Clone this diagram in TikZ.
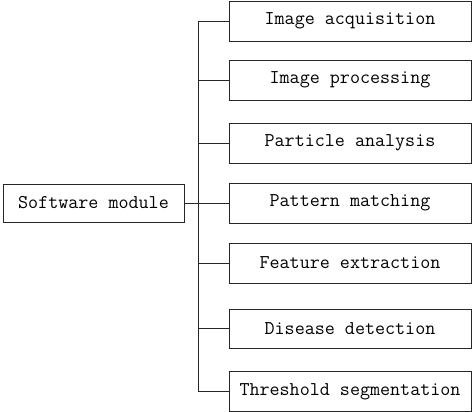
\documentclass[tikz,border=0pt]{standalone}
\begin{document}
\begin{tikzpicture}[x=1pt,y=-1pt,
  box/.style={draw=black!85,line width=0.9pt,rectangle,inner sep=0pt,
    font=\ttfamily\fontsize{19.5}{21}\selectfont},
  mod/.style={box,minimum width=242pt,minimum height=40pt},
  conn/.style={draw=black!85,line width=0.9pt}]
\useasboundingbox (0,0) rectangle (474,412);
\node[box,minimum width=181pt,minimum height=38pt] (main) at (93.5,203) {Software module};
\node[mod] (b1) at (350,21) {Image acquisition};
\node[mod] (b2) at (350,80) {Image processing};
\node[mod] (b3) at (350,143) {Particle analysis};
\node[mod] (b4) at (350,203) {Pattern matching};
\node[mod] (b5) at (350,263) {Feature extraction};
\node[mod,minimum height=39pt] (b6) at (350,328.5) {Disease detection};
\node[mod] (b7) at (350,391.5) {Threshold segmentation};
\coordinate (t) at (198,0);
\draw[conn] (main.east) -- (b4.west);
\draw[conn] (b1.west) -- (b1.west -| t) -- (b7.west -| t) -- (b7.west);
\foreach \b in {b2,b3,b5,b6} \draw[conn] (\b.west) -- (\b.west -| t);
\end{tikzpicture}
\end{document}
